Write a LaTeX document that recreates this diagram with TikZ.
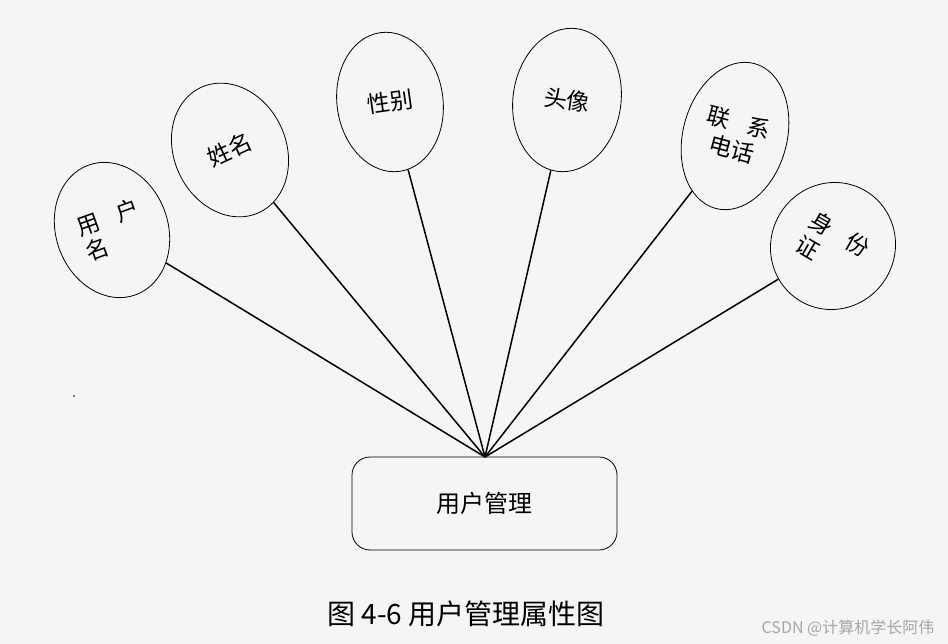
\documentclass[tikz,border=0pt]{standalone}
\usepackage{fontspec}
\newfontfamily\cjk{Noto Sans CJK SC}
\usetikzlibrary{shapes.geometric}
\begin{document}
\begin{tikzpicture}[x=1pt,y=-1pt,
  attr/.style={draw,ellipse,line width=0.8pt,font=\cjk\fontsize{23}{27}\selectfont,align=center,inner sep=0pt},
  conn/.style={draw,line width=1.5pt}]
\fill[white!96!black] (0,0) rectangle (948,644);
\useasboundingbox (0,0) rectangle (948,644);
\node[attr,minimum width=112,minimum height=138,rotate=20] (e1) at (112,230) {用\hspace{0.8em}户\\名\hspace{0.8em}\phantom{户}};
\node[attr,minimum width=112,minimum height=138,rotate=25] (e2) at (230,150) {姓名};
\node[attr,minimum width=106,minimum height=140,rotate=8] (e3) at (390,102) {性别};
\node[attr,minimum width=108,minimum height=144,rotate=-8] (e4) at (567,100) {头像};
\node[attr,minimum width=104,minimum height=150,rotate=-15] (e5) at (735,136) {联\hspace{0.8em}系\\电话\hspace{0.8em}};
\node[attr,minimum width=124,minimum height=128,rotate=-30] (e6) at (833,246) {身\hspace{0.8em}份\\证\hspace{0.8em}\phantom{份}};
\node[draw,line width=0.8pt,rounded corners=18,minimum width=265,minimum height=93,font=\cjk\fontsize{24}{28}\selectfont] (m) at (484.5,503.5) {用户管理};
\coordinate (hub) at (485,457);
\foreach \e in {e1,e2,e3,e4,e5,e6} \draw[conn] (hub) -- (\e);
\node[font=\cjk\fontsize{28}{32}\selectfont] (cap) at (466,614) {图 4-6 用户管理属性图};
\node[font=\cjk\fontsize{16}{19}\selectfont,text=gray!70] (wm) at (848,628) {CSDN @计算机学长阿伟};
\node[circle,fill=black,inner sep=0.7pt] (dot) at (74,396) {};
\end{tikzpicture}
\end{document}
